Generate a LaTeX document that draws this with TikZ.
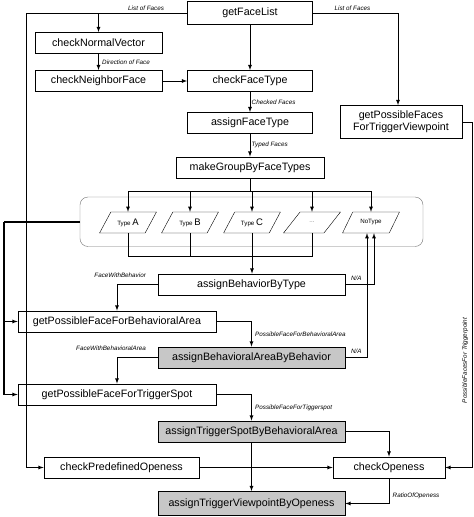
\documentclass[tikz,border=0pt]{standalone}
\usepackage{fontspec}
\setmainfont{Liberation Sans}
\usetikzlibrary{shapes.geometric}
\tikzset{
  func/.style={draw, thick, minimum height=21pt, inner sep=1pt, font=\fontsize{10.7}{12}\selectfont},
  done/.style={func, fill=black!22},
  typ/.style={draw, trapezium, trapezium left angle=64, trapezium right angle=116, trapezium stretches=true,
    minimum width=57pt, minimum height=21pt, inner xsep=0pt, font=\fontsize{6.2}{7}\selectfont},
  lbl/.style={font=\itshape\fontsize{6.3}{7}\selectfont},
  >=latex
}
\begin{document}
\begin{tikzpicture}[x=1pt, y=-1pt]
\useasboundingbox (0,0) rectangle (474,517);
\node[func, minimum width=125pt, minimum height=23pt] (getFaceList) at (250,13) {getFaceList};
\node[func, minimum width=127pt] (checkNormalVector) at (98.5,43) {checkNormalVector};
\node[func, minimum width=127pt] (checkNeighborFace) at (98.5,81) {checkNeighborFace};
\node[func, minimum width=125pt] (checkFaceType) at (250,81) {checkFaceType};
\node[func, minimum width=125pt] (assignFaceType) at (250,123) {assignFaceType};
\node[func, minimum width=122pt, minimum height=33pt, align=center, font=\fontsize{10.7}{12}\selectfont] (getPossibleFaces) at (401,122) {getPossibleFaces\\ForTriggerViewpoint};
\node[func, minimum width=148pt] (makeGroup) at (250,167.5) {makeGroupByFaceTypes};
\draw[rounded corners=8pt, draw=black!55] (80,197) rectangle (423,246.5);
\node[typ] (typeA) at (128,222.5) {Type \fontsize{9.5}{10}\selectfont A};
\node[typ] (typeB) at (190,222.5) {Type \fontsize{9.5}{10}\selectfont B};
\node[typ] (typeC) at (252,222.5) {Type \fontsize{9.5}{10}\selectfont C};
\node[typ, text=black!55] (typeEtc) at (312,222.5) {...};
\node[typ] (noType) at (371,222.5) {NoType};
\node[func, minimum width=187pt] (assignBehavior) at (251.5,284.5) {assignBehaviorByType};
\node[func, minimum width=198pt] (getBehavioralArea) at (117,321.5) {getPossibleFaceForBehavioralArea};
\node[done, minimum width=187pt] (assignBehavioralArea) at (251.5,357.5) {assignBehavioralAreaByBehavior};
\node[func, minimum width=198pt] (getTriggerSpot) at (117,394.5) {getPossibleFaceForTriggerSpot};
\node[done, minimum width=187pt] (assignTriggerSpot) at (251.5,431.5) {assignTriggerSpotByBehavioralArea};
\node[func, minimum width=155pt] (checkPredefined) at (121.5,467.5) {checkPredefinedOpeness};
\node[func, minimum width=112pt] (checkOpeness) at (389,467.5) {checkOpeness};
\node[done, minimum width=187pt, minimum height=24pt] (assignViewpoint) at (251.5,503.5) {assignTriggerViewpointByOpeness};
\coordinate (split) at (250,191);
\coordinate (merge) at (252,256);
\coordinate (leftBus) at (26,13);
\coordinate (typeBus) at (4,222);
\coordinate (rightBus) at (472,122);
\draw[thick,->] (getFaceList.west) -- (leftBus) |- (checkPredefined.west);
\draw[thick,->] (checkNormalVector.north |- getFaceList.west) -- (checkNormalVector.north) node[lbl, pos=0, above right, xshift=26pt, yshift=-1pt] {List of Faces};
\draw[thick,->] (checkNormalVector) -- (checkNeighborFace) node[lbl, midway, right] {Direction of Face};
\draw[thick,->] (checkNeighborFace) -- (checkFaceType);
\draw[thick,->] (getFaceList) -- (checkFaceType);
\draw[thick,->] (checkFaceType) -- (assignFaceType) node[lbl, midway, right, xshift=-2pt] {Checked Faces};
\draw[thick,->] (assignFaceType) -- (makeGroup) node[lbl, midway, right, xshift=-2pt] {Typed Faces};
\draw[thick,->] (getFaceList.east) -| ([xshift=-3pt]getPossibleFaces.north) node[lbl, pos=0, above right, xshift=18pt, yshift=-1pt] {List of Faces};
\draw[thick,->] (getPossibleFaces.east) -- (rightBus) |- (checkOpeness.east) node[lbl, pos=0.345, rotate=90, above] {PossibleFacesFor Triggerpoint};
\draw[thick] (makeGroup) -- (split);
\foreach \t in {typeA,typeB,typeC,typeEtc,noType} \draw[thick,->] (split) -| (\t.north);
\foreach \t in {typeA,typeB,typeEtc} \draw[thick] (\t.south) |- (merge);
\draw[thick,->] (typeC.south) -- (typeC.south |- assignBehavior.north);
\draw[line width=1.4pt] (80,222) -- (typeBus);
\draw[line width=1.4pt] (typeBus) -- (typeBus |- getTriggerSpot.west);
\draw[thick,->] (typeBus |- getBehavioralArea.west) -- (getBehavioralArea.west);
\draw[thick,->] (typeBus |- getTriggerSpot.west) -- (getTriggerSpot.west);
\draw[thick,->] (assignBehavior.east) -| ([xshift=3pt]noType.south) node[lbl, pos=0, above right, xshift=2pt] {N/A};
\draw[thick,->] (assignBehavioralArea.east) -| ([xshift=-4pt]noType.south) node[lbl, pos=0, above right, xshift=2pt] {N/A};
\draw[thick,->] (assignBehavior.west) -| (getBehavioralArea.north) node[lbl, pos=0, above left, xshift=-8pt, yshift=3pt] {FaceWithBehavior};
\draw[thick,->] (getBehavioralArea.east) -| (assignBehavioralArea.north) node[lbl, pos=0.75, right] {PossibleFaceForBehavioralArea};
\draw[thick,->] (assignBehavioralArea.west) -| (getTriggerSpot.north) node[lbl, pos=0, above left, xshift=-8pt, yshift=3pt] {FaceWithBehavioralArea};
\draw[thick,->] (getTriggerSpot.east) -| (assignTriggerSpot.north) node[lbl, pos=0.75, right] {PossibleFaceForTiggerspot};
\draw[thick,->] (assignTriggerSpot.east) -| (checkOpeness.north);
\draw[thick,->] (assignTriggerSpot) -- (assignViewpoint);
\draw[thick,->] (checkPredefined) -- (checkOpeness);
\draw[thick,->] (checkOpeness.south) |- (assignViewpoint.east) node[lbl, pos=0.35, right] {RatioOfOpeness};
\end{tikzpicture}
\end{document}
